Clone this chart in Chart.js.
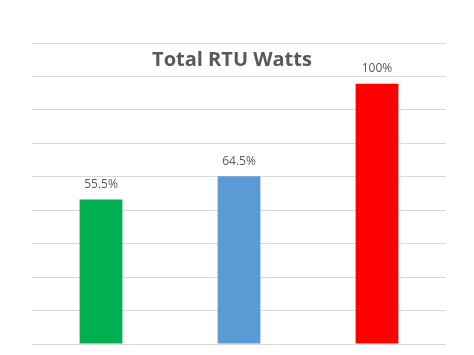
<!DOCTYPE html>
<html>
<head>
<meta charset="utf-8">
<script src="https://cdn.jsdelivr.net/npm/chart.js@4"></script>
<style>
html,body{margin:0;padding:0;background:#fff;}
#wrap{width:474px;height:355px;position:relative;}
</style>
</head>
<body>
<div id="wrap"><canvas id="c" width="474" height="355"></canvas></div>
<script>
const categories = ["A", "B", "C"];
const values = [55.5, 64.5, 100];
const valueLabels = ["55.5%", "64.5%", "100%"];
const barColors = ["#00b050", "#5b9bd5", "#ff0000"];
const titleText = "Total RTU Watts";
const axisMax = 115.7;
const gridCount = 9;

const overlay = {
  id: 'overlay',
  afterDatasetsDraw(chart) {
    const ctx = chart.ctx;
    ctx.save();
    ctx.fillStyle = '#595959';
    ctx.textAlign = 'center';
    ctx.textBaseline = 'middle';
    ctx.font = 'bold 20px "Open Sans", "Liberation Sans", sans-serif';
    ctx.fillText(titleText, 232, 60);
    ctx.font = '12px "Open Sans", "Liberation Sans", sans-serif';
    const meta = chart.getDatasetMeta(0);
    meta.data.forEach((bar, i) => {
      ctx.fillText(valueLabels[i], bar.x, bar.y - 15);
    });
    ctx.restore();
  }
};

new Chart(document.getElementById('c'), {
  type: 'bar',
  data: {
    labels: categories,
    datasets: [{
      data: values,
      backgroundColor: barColors,
      borderWidth: 0,
      categoryPercentage: 1,
      barPercentage: 0.31
    }]
  },
  options: {
    responsive: false,
    animation: false,
    layout: { padding: { left: 32, right: 28, top: 43, bottom: 11 } },
    plugins: { legend: { display: false }, tooltip: { enabled: false }, title: { display: false } },
    scales: {
      x: { display: false },
      y: {
        min: 0, max: axisMax,
        afterBuildTicks(axis) {
          axis.ticks = Array.from({length: gridCount + 1}, (_, i) => ({ value: i * axisMax / gridCount }));
        },
        ticks: { display: false },
        border: { display: false },
        grid: { color: '#d9d9d9', drawTicks: false, lineWidth: 1 }
      }
    }
  },
  plugins: [overlay]
});
</script>
</body>
</html>
